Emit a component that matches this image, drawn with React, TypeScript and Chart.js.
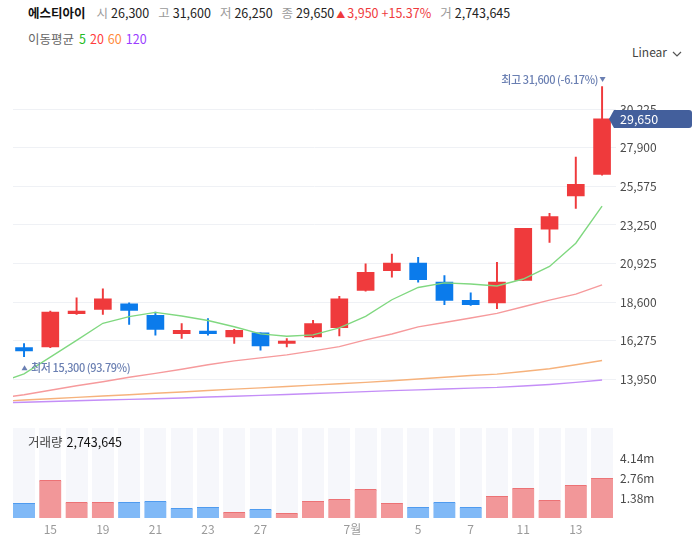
import React, { useEffect, useRef } from 'react';
import { Chart, registerables } from 'chart.js';
Chart.register(...registerables);

const FONT = "'Noto Sans CJK KR', 'Noto Sans', sans-serif";

const STOCK_NAME = '에스티아이';
const DATES = ['6/14','6/15','6/16','6/19','6/20','6/21','6/22','6/23','6/26','6/27','6/28','6/29','6/30','7/3','7/4','7/5','7/6','7/7','7/10','7/11','7/12','7/13','7/14'];
const OPEN = [15850, 15900, 17900, 18150, 18500, 17800, 16700, 16850, 16500, 16750, 16100, 16500, 17050, 19300, 20500, 20950, 19800, 18700, 18550, 19900, 23000, 25000, 26300];
const HIGH = [16100, 18050, 18850, 19400, 18550, 18000, 17300, 17600, 16950, 16750, 16400, 17500, 18950, 20900, 21500, 21300, 20200, 19150, 21000, 23050, 23950, 27350, 31600];
const LOW = [15300, 15850, 17850, 17850, 17250, 16600, 16400, 16600, 16100, 15700, 15900, 16450, 16550, 19250, 20100, 19800, 18450, 18400, 18200, 19900, 22200, 24250, 26250];
const CLOSE = [15650, 18000, 18050, 18800, 18100, 16950, 16900, 16700, 16900, 15950, 16250, 17300, 18800, 20400, 20950, 19950, 18700, 18450, 19800, 23050, 23750, 25700, 29650];
const VOLUME = [1014000, 2600000, 1083000, 1083000, 1083000, 1152000, 669000, 738000, 393000, 600000, 324000, 1152000, 1290000, 1980000, 1014000, 738000, 1083000, 738000, 1497000, 2050000, 1221000, 2256000, 2743645];

// moving averages: first value belongs to the trading day before the first visible candle
const MA5 = [13700, 14270, 15280, 16290, 17320, 17720, 17980, 17760, 17490, 17110, 16680, 16540, 16620, 17040, 17740, 18740, 19480, 19760, 19690, 19570, 19990, 20750, 22150, 24390];
const MA20 = [12800, 13010, 13280, 13550, 13790, 14060, 14300, 14545, 14815, 15055, 15235, 15415, 15655, 15915, 16315, 16675, 17100, 17370, 17640, 17920, 18320, 18720, 19080, 19640];
const MA60 = [12610, 12690, 12770, 12850, 12935, 13010, 13095, 13175, 13260, 13345, 13420, 13505, 13590, 13675, 13755, 13855, 13955, 14060, 14165, 14255, 14410, 14575, 14815, 15075];
const MA120 = [12520, 12560, 12605, 12645, 12690, 12730, 12770, 12815, 12870, 12920, 12970, 13025, 13080, 13135, 13195, 13255, 13300, 13355, 13405, 13450, 13535, 13630, 13755, 13895];

const PRICE_TICKS = [13950, 16275, 18600, 20925, 23250, 25575, 27900, 30225];
const VOLUME_TICKS = [1380000, 2760000, 4140000];
const X_TICK_POS = [2, 4, 6, 8, 10, 13.5, 16, 18, 20, 22];
const X_TICK_LABELS = ['15', '19', '21', '23', '27', '7월', '5', '7', '11', '13'];

const X_MIN = 0.58;
const X_MAX = 23.53;
const PRICE_MIN = 11726;
const PRICE_MAX = 32528;
const VOL_MAX = 6210000;

const RED = '#ef3a3c';
const BLUE = '#0b7beb';
const VOL_RED = '#f29799';
const VOL_BLUE = '#80b9f7';
const AXIS_W = 79;

const fmt = (v: number) => v.toLocaleString('en-US');

const N = CLOSE.length;
const up = (i: number) => CLOSE[i] >= OPEN[i];
const volUp = (i: number) => (i === 0 ? CLOSE[0] >= OPEN[0] : CLOSE[i] >= CLOSE[i - 1]);

const priceAnnotations = {
  id: 'priceAnnotations',
  afterDraw(chart: any) {
    const { ctx } = chart;
    const xs = chart.scales.x;
    const ys = chart.scales.y;
    const last = CLOSE[N - 1];
    let hi = 0;
    for (let i = 1; i < N; i++) if (HIGH[i] > HIGH[hi]) hi = i;
    let lo = 0;
    for (let i = 1; i < N; i++) if (LOW[i] < LOW[lo]) lo = i;
    ctx.save();
    ctx.font = `500 11px ${FONT}`;
    try { (ctx as any).letterSpacing = '-0.4px'; } catch (e) {}
    ctx.fillStyle = '#6a7fb2';
    ctx.textBaseline = 'middle';
    const hx = xs.getPixelForValue(hi + 1);
    const hy = ys.getPixelForValue(HIGH[hi]) - 7;
    const hiPct = ((last / HIGH[hi] - 1) * 100).toFixed(2);
    ctx.textAlign = 'right';
    ctx.fillText(`최고 ${fmt(HIGH[hi])} (${hiPct}%)`, hx - 4, hy);
    ctx.beginPath();
    ctx.moveTo(hx - 2.5, hy - 2.5);
    ctx.lineTo(hx + 3.5, hy - 2.5);
    ctx.lineTo(hx + 0.5, hy + 2.5);
    ctx.closePath();
    ctx.fill();
    const lx = xs.getPixelForValue(lo + 1);
    const ly = ys.getPixelForValue(LOW[lo]) + 11;
    const loPct = ((last / LOW[lo] - 1) * 100).toFixed(2);
    ctx.beginPath();
    ctx.moveTo(lx - 2.5, ly + 2.5);
    ctx.lineTo(lx + 3.5, ly + 2.5);
    ctx.lineTo(lx + 0.5, ly - 2.5);
    ctx.closePath();
    ctx.fill();
    ctx.textAlign = 'left';
    ctx.fillText(`최저 ${fmt(LOW[lo])} (${loPct}%)`, lx + 7, ly);
    try { (ctx as any).letterSpacing = '0px'; } catch (e) {}
    const ty = ys.getPixelForValue(last);
    const tipX = chart.chartArea.right - 7;
    const bx = tipX + 5;
    const ex = 692;
    const h = 9;
    ctx.fillStyle = '#435f9c';
    ctx.beginPath();
    ctx.moveTo(tipX, ty);
    ctx.lineTo(bx, ty - h);
    ctx.lineTo(ex - 3, ty - h);
    ctx.quadraticCurveTo(ex, ty - h, ex, ty - h + 3);
    ctx.lineTo(ex, ty + h - 3);
    ctx.quadraticCurveTo(ex, ty + h, ex - 3, ty + h);
    ctx.lineTo(bx, ty + h);
    ctx.closePath();
    ctx.fill();
    ctx.fillStyle = '#ffffff';
    ctx.font = `12.5px ${FONT}`;
    ctx.textAlign = 'left';
    ctx.fillText(fmt(last), bx + 6, ty + 0.5);
    ctx.restore();
  },
};

const volumeColumns = {
  id: 'volumeColumns',
  beforeDatasetsDraw(chart: any) {
    const { ctx, chartArea } = chart;
    const xs = chart.scales.x;
    ctx.save();
    ctx.fillStyle = '#f6f7fb';
    for (let i = 0; i < N; i++) {
      const x = xs.getPixelForValue(i + 1);
      ctx.fillRect(Math.round(x - 11), chartArea.top, 22, chartArea.bottom - chartArea.top);
    }
    ctx.restore();
  },
};

function PriceChart() {
  const ref = useRef<HTMLCanvasElement>(null);
  useEffect(() => {
    const lineDs = (data: number[], color: string) => ({
      type: 'line' as const,
      data: data.map((v, i) => ({ x: i, y: v })),
      borderColor: color,
      borderWidth: 1.4,
      pointRadius: 0,
      tension: 0,
      order: 0,
    });
    const chart = new Chart(ref.current!, {
      type: 'bar',
      data: {
        datasets: [
          lineDs(MA120, '#c48ef7'),
          lineDs(MA60, '#f6b27c'),
          lineDs(MA20, '#f69a9c'),
          lineDs(MA5, '#80d880'),
          {
            type: 'bar',
            data: DATES.map((_, i) => ({ x: i + 1, y: [Math.min(OPEN[i], CLOSE[i]), Math.max(OPEN[i], CLOSE[i])] })) as any,
            backgroundColor: DATES.map((_, i) => (up(i) ? RED : BLUE)),
            barThickness: 17,
            minBarLength: 2,
            grouped: false,
            order: 1,
          } as any,
          {
            type: 'bar',
            data: DATES.map((_, i) => ({ x: i + 1, y: [LOW[i], HIGH[i]] })) as any,
            backgroundColor: DATES.map((_, i) => (up(i) ? RED : BLUE)),
            barThickness: 1.3,
            grouped: false,
            order: 2,
          } as any,
        ],
      },
      options: {
        responsive: false,
        animation: false,
        layout: { padding: { left: 13, right: 0, top: 10, bottom: 20 } },
        plugins: { legend: { display: false }, tooltip: { enabled: false } },
        scales: {
          x: { type: 'linear', min: X_MIN, max: X_MAX, offset: false, display: false, grid: { offset: false } },
          y: {
            position: 'right',
            min: PRICE_MIN,
            max: PRICE_MAX,
            afterBuildTicks: (s: any) => {
              s.ticks = PRICE_TICKS.map((v) => ({ value: v }));
            },
            afterFit: (s: any) => {
              s.width = AXIS_W;
            },
            grid: { color: '#eff1f5', drawTicks: false, lineWidth: 1 },
            border: { display: false },
            ticks: {
              padding: 4,
              color: '#4a4a4a',
              font: { family: FONT, size: 12 },
              callback: (v: any) => fmt(Number(v)),
            },
          },
        },
      },
      plugins: [priceAnnotations],
    } as any);
    return () => chart.destroy();
  }, []);
  return <canvas ref={ref} width={695} height={376} style={{ width: 695, height: 376, display: 'block' }} />;
}

function VolumeChart() {
  const ref = useRef<HTMLCanvasElement>(null);
  useEffect(() => {
    const chart = new Chart(ref.current!, {
      type: 'bar',
      data: {
        datasets: [
          {
            data: VOLUME.map((v, i) => ({ x: i + 1, y: v })) as any,
            backgroundColor: VOLUME.map((_, i) => (volUp(i) ? VOL_RED : VOL_BLUE)),
            borderColor: VOLUME.map((_, i) => (volUp(i) ? '#ec7275' : '#4f9bef')),
            borderWidth: { top: 1, left: 0, right: 0, bottom: 0 },
            borderSkipped: 'bottom',
            barThickness: 22,
            grouped: false,
          } as any,
        ],
      },
      options: {
        responsive: false,
        animation: false,
        layout: { padding: { left: 13, right: 0, top: 18, bottom: 0 } },
        plugins: { legend: { display: false }, tooltip: { enabled: false } },
        scales: {
          x: {
            type: 'linear',
            min: X_MIN,
            max: X_MAX,
            offset: false,
            afterBuildTicks: (s: any) => {
              s.ticks = X_TICK_POS.map((v) => ({ value: v }));
            },
            afterFit: (s: any) => {
              s.height = 32;
            },
            grid: { display: false, drawTicks: false, offset: false },
            border: { display: false },
            ticks: {
              autoSkip: false,
              maxRotation: 0,
              padding: 4,
              color: '#9a9a9a',
              font: { family: FONT, size: 12 },
              callback: (_v: any, i: number) => X_TICK_LABELS[i],
            },
          },
          y: {
            position: 'right',
            min: 0,
            max: VOL_MAX,
            afterBuildTicks: (s: any) => {
              s.ticks = VOLUME_TICKS.map((v) => ({ value: v }));
            },
            afterFit: (s: any) => {
              s.width = AXIS_W;
            },
            grid: { display: false, drawTicks: false },
            border: { display: false },
            ticks: {
              padding: 4,
              color: '#4a4a4a',
              font: { family: FONT, size: 12 },
              callback: (v: any) => (Number(v) / 1e6).toFixed(2) + 'm',
            },
          },
        },
      },
      plugins: [volumeColumns],
    } as any);
    return () => chart.destroy();
  }, []);
  return <canvas ref={ref} width={695} height={140} style={{ width: 695, height: 140, display: 'block' }} />;
}

export default function App() {
  const i = N - 1;
  const chg = CLOSE[i] - CLOSE[i - 1];
  const pct = ((chg / CLOSE[i - 1]) * 100).toFixed(2);
  const lbl = { color: '#9a9a9a', marginLeft: 9, marginRight: 3 };
  return (
    <div style={{ position: 'absolute', left: 0, top: 0, width: 695, height: 550, background: '#fff', overflow: 'hidden', fontFamily: FONT }}>
      <div style={{ position: 'absolute', left: 28, top: 4, fontSize: 12.5, lineHeight: '18px', whiteSpace: 'nowrap', color: '#222' }}>
        <span style={{ fontWeight: 700, color: '#111' }}>{STOCK_NAME}</span>
        <span style={{ ...lbl, marginLeft: 11 }}>시</span><span>{fmt(OPEN[i])}</span>
        <span style={lbl}>고</span><span>{fmt(HIGH[i])}</span>
        <span style={lbl}>저</span><span>{fmt(LOW[i])}</span>
        <span style={lbl}>종</span><span>{fmt(CLOSE[i])}</span>
        <span style={{ color: '#ef3a3c', fontSize: 9, marginLeft: 2, marginRight: 2 }}>▲</span>
        <span style={{ color: '#ef3a3c' }}>{fmt(chg)}</span>
        <span style={{ color: '#ef3a3c', marginLeft: 3 }}>+{pct}%</span>
        <span style={lbl}>거</span><span>{fmt(VOLUME[i])}</span>
      </div>
      <div style={{ position: 'absolute', left: 28, top: 30, fontSize: 12.5, lineHeight: '18px', whiteSpace: 'nowrap', color: '#666' }}>
        <span>이동평균</span>
        <span style={{ color: '#22bb22', marginLeft: 5 }}>5</span>
        <span style={{ color: '#ff3d3d', marginLeft: 4 }}>20</span>
        <span style={{ color: '#ff8a3a', marginLeft: 4 }}>60</span>
        <span style={{ color: '#9a3dff', marginLeft: 4 }}>120</span>
      </div>
      <div style={{ position: 'absolute', left: 632, top: 43, fontSize: 12, lineHeight: '18px', color: '#444', whiteSpace: 'nowrap' }}>
        Linear
        <svg width="10" height="8" style={{ marginLeft: 5, verticalAlign: 'middle' }}>
          <polyline points="1,2 5,6 9,2" fill="none" stroke="#555" strokeWidth="1.2" />
        </svg>
      </div>
      <div style={{ position: 'absolute', left: 0, top: 60 }}>
        <PriceChart />
      </div>
      <div style={{ position: 'absolute', left: 0, top: 410 }}>
        <VolumeChart />
      </div>
      <div style={{ position: 'absolute', left: 28, top: 433, fontSize: 12.5, lineHeight: '18px', whiteSpace: 'nowrap' }}>
        <span style={{ color: '#444' }}>거래량</span>
        <span style={{ color: '#111', marginLeft: 4 }}>{fmt(VOLUME[i])}</span>
      </div>
    </div>
  );
}
